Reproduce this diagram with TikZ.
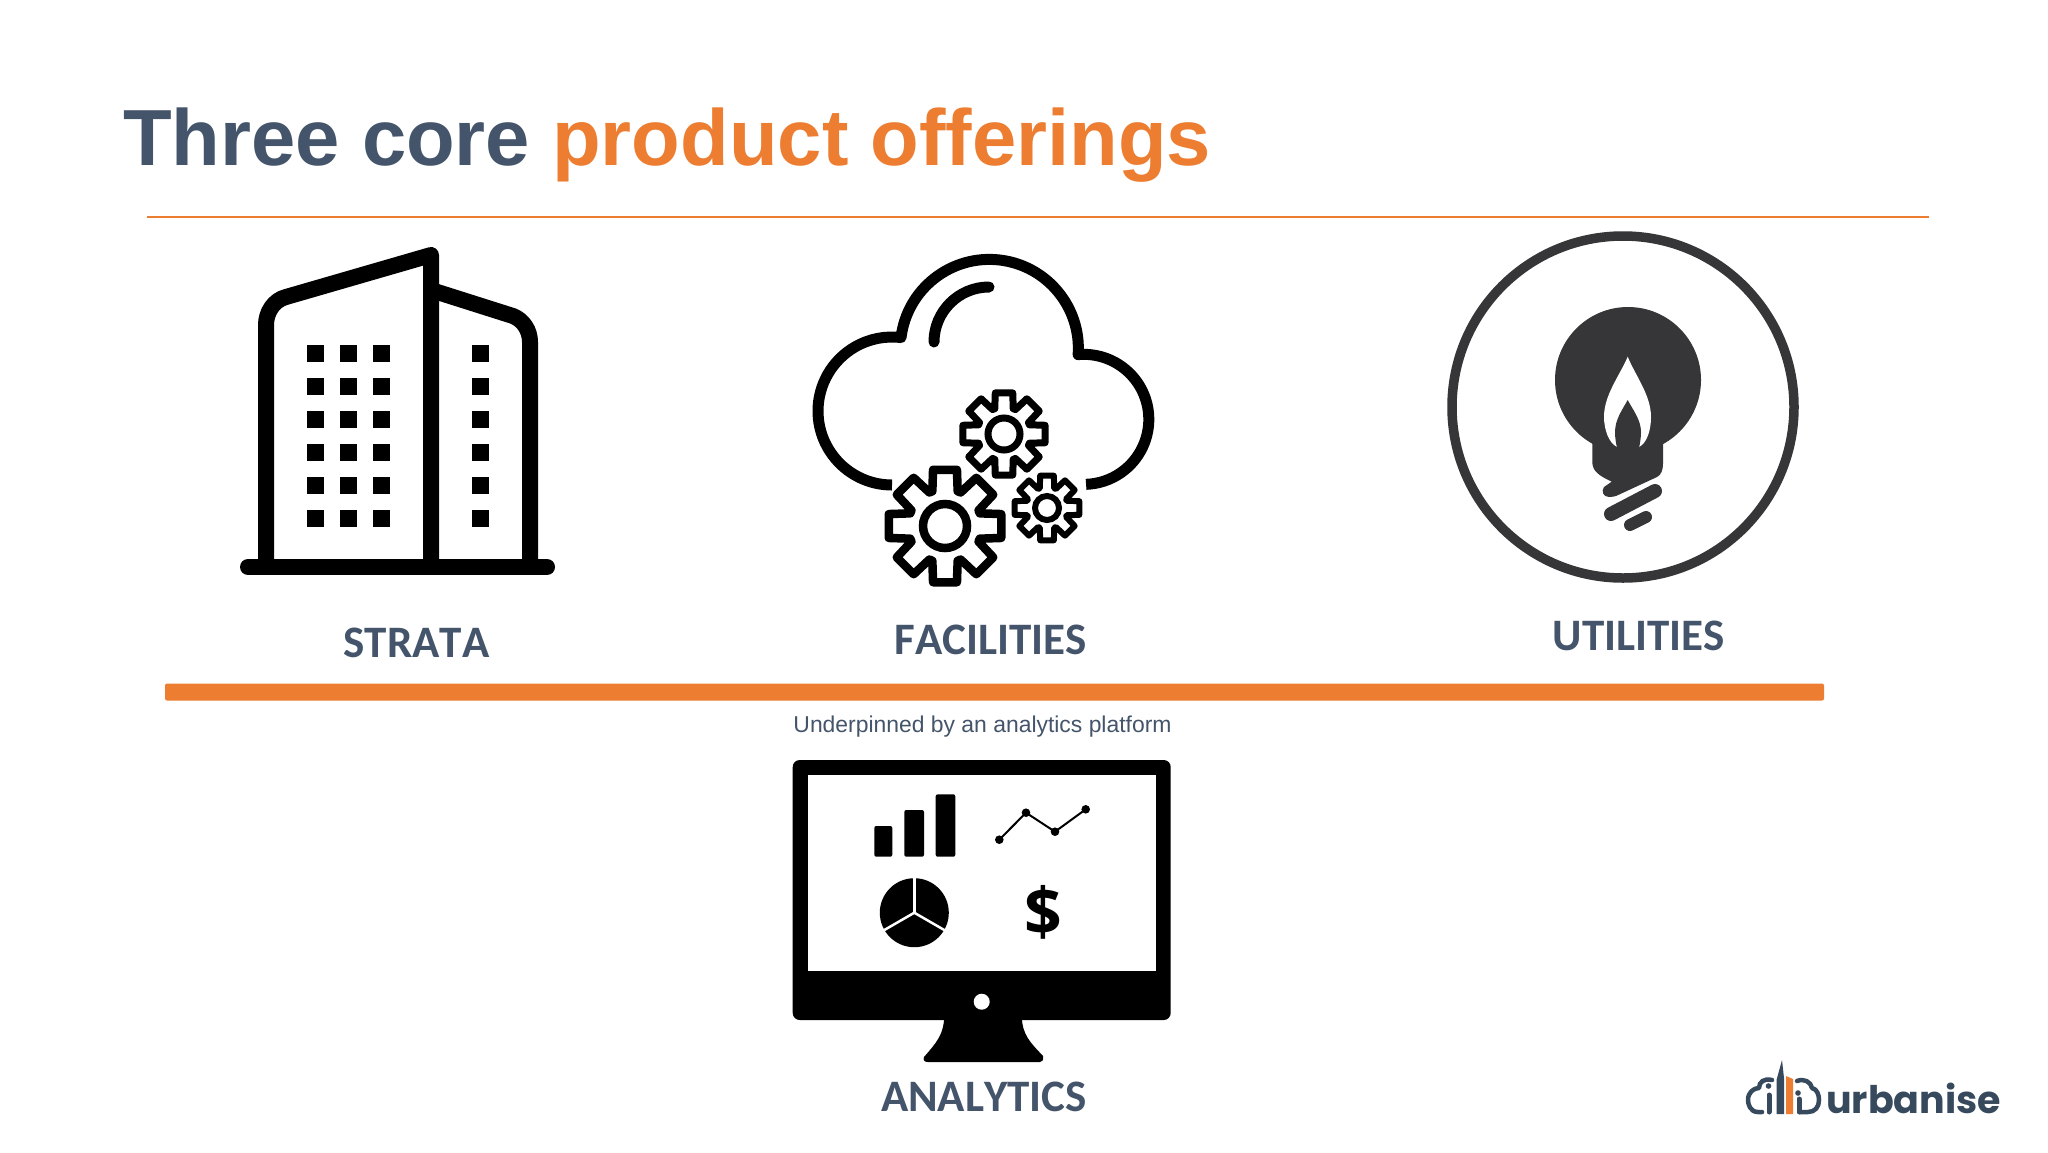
\documentclass[tikz,border=0pt]{standalone}
\usepackage{fontspec}
\setmainfont{Liberation Sans}
\newfontfamily\carl[Kerning=Off]{Carlito}
\newfontfamily\logofont{Poppins}
\newfontfamily\dollarfont{Open Sans}
\definecolor{slate}{HTML}{44546A}
\definecolor{orng}{HTML}{ED7D31}
\definecolor{bulbc}{HTML}{363638}
\definecolor{logoc}{HTML}{37495C}
\tikzset{
  label/.style={text=slate,font=\carl\bfseries\fontsize{#1}{#1}\selectfont,anchor=base,inner sep=0pt},
  ico/.style={draw=black,line cap=round,line join=round,line width=16},
  win/.style={fill=black,draw=none},
  gearline/.style={draw=black,fill=white,line join=round}
}
% \gearicon{cx}{cy}{tip}{root}{hub}{lw}
\newcommand{\gearicon}[6]{%
  \begin{scope}[shift={(#1,#2)}]
    \draw[gearline,line width=#6] (-20:#4)
      \foreach \a in {0,45,...,315} {
        -- ({\a-20}:#4) -- ({\a-12}:#3) -- ({\a+12}:#3) -- ({\a+20}:#4)
        arc[start angle={\a+20},end angle={\a+25},radius=#4]
      } -- cycle;
    \draw[draw=black,line width=#6] (0,0) circle[radius=#5];
  \end{scope}}
\begin{document}
\begin{tikzpicture}[x=1pt,y=1pt,yscale=-1]
\useasboundingbox (0,0) rectangle (2048,1152);
\fill[white] (0,0) rectangle (2048,1152);
% title
\node[anchor=base west,inner sep=0pt,font=\bfseries\fontsize{79.6}{79.6}\selectfont] (title) at (123,165)
  {\textcolor{slate}{Three core} \textcolor{orng}{product offerings}};
\coordinate (ruleL) at (147,217);
\coordinate (ruleR) at (1929,217);
\draw[orng,line width=2] (ruleL) -- (ruleR);
% building
\draw[ico,line width=16] (248,567) -- (547,567);
\draw[ico,line width=16,line cap=butt] (266,567) -- (266,325) .. controls (266,312) and (274,300) .. (286,297) -- (431,255) -- (431,567);
\draw[ico,line width=16,line cap=butt] (431,290) -- (513,316) .. controls (523,320) and (530,330) .. (530,342) -- (530,567);
\foreach \cx in {307,340,373,472}
  \foreach \cy in {345,378,411,444,477,510}
    \fill[win] (\cx,\cy) rectangle ++(16.5,16.5);
\node[label=45] (strata) at (416.5,657) {STRATA};
% cloud
\draw[line width=11,line join=round,line cap=butt,draw=black]
  (892,485) arc[start angle=90,end angle=277,radius=74]
  arc[start angle=187,end angle=364,radius=89]
  arc[start angle=-95,end angle=88,radius=65];
\draw[line width=11,line cap=round,draw=black] (934,342) arc[start angle=180,end angle=270,radius=55];
\gearicon{1004}{434}{42}{27}{16}{7}
\gearicon{1047}{508}{33}{21}{12}{6}
\gearicon{945}{526}{57.5}{37}{22}{8.5}
\node[label=45] (facilities) at (991,654) {FACILITIES};
% bulb
\draw[bulbc,line width=9.5] (1623,407) circle[radius=171];
\fill[bulbc] (1628,380) circle[radius=73];
\fill[bulbc,line join=round] (1592.3,435) -- (1592.3,463) .. controls (1593,472) and (1600,476) .. (1611.7,481.7)
  -- (1604,487) .. controls (1601,491) and (1603,497) .. (1609,497) .. controls (1612,497) and (1614,496.5) .. (1616,496)
  -- (1657,477) .. controls (1661,475) and (1663,470) .. (1663,464) -- (1663,435) -- cycle;
\draw[bulbc,line width=14,line cap=round] (1611,514) -- (1655,491);
\draw[bulbc,line width=12,line cap=round] (1630,525) -- (1646,517);
\fill[white] (1627.7,356.7) .. controls (1620,375) and (1604,395) .. (1604,416.7)
  .. controls (1604,430) and (1609,443) .. (1617,447) -- (1639,447)
  .. controls (1647,443) and (1651,430) .. (1651,417)
  .. controls (1651,395) and (1635,375) .. cycle;
\fill[bulbc] (1627.7,400) .. controls (1622,410) and (1615,420) .. (1615,432)
  .. controls (1615,438) and (1616,443) .. (1617,448) -- (1639,448)
  .. controls (1640,443) and (1641,438) .. (1641,432)
  .. controls (1641,420) and (1633,410) .. cycle;
\node[label=45] (utilities) at (1639,650) {UTILITIES};
% bar
\fill[orng,rounded corners=2] (165,683.5) rectangle (1824,700.5);
\node[anchor=base,inner sep=0pt,text=slate,font=\fontsize{22.9}{22.9}\selectfont] (under) at (982.5,732) {Underpinned by an analytics platform};
% monitor
\fill[black,rounded corners=7] (792.7,760) rectangle (1170.7,1020);
\fill[black] (944.3,1015) -- (1021.7,1015) .. controls (1022,1035) and (1030,1042) .. (1043,1056)
  .. controls (1044,1060) and (1042,1062) .. (1040,1062) -- (928,1062) .. controls (924,1062) and (923,1060) .. (924,1057)
  .. controls (936,1043) and (944,1035) .. cycle;
\fill[white] (808.3,775) rectangle (1155.7,970.7);
\fill[white] (981.7,1001.7) circle[radius=8];
\fill[black,rounded corners=2] (874.3,826) rectangle (892.3,856.7);
\fill[black,rounded corners=2] (904.3,810) rectangle (924,856.7);
\fill[black,rounded corners=2] (935.7,794.3) rectangle (955.3,856.7);
\coordinate (p1) at (999.3,839.7);
\coordinate (p2) at (1026,812.7);
\coordinate (p3) at (1055,831.7);
\coordinate (p4) at (1085.7,809.3);
\draw[black,line width=2] (p1) -- (p2) -- (p3) -- (p4);
\foreach \p in {p1,p2,p3,p4} \fill[black] (\p) circle[radius=4.3];
\fill[black] (914.3,912.7) circle[radius=34.5];
\draw[white,line width=2.5] (914.3,912.7) -- ++(-90:35);
\draw[white,line width=2.5] (914.3,912.7) -- ++(30:35);
\draw[white,line width=2.5] (914.3,912.7) -- ++(150:35);
\node[inner sep=0pt,font=\dollarfont\bfseries\fontsize{66}{66}\selectfont,text=black] (dollar) at (1043,912) {\$};
\node[label=45] (analytics) at (984,1111) {ANALYTICS};
% logo
\node[anchor=base west,inner sep=0pt,text=logoc,font=\logofont\bfseries\fontsize{38}{38}\selectfont] (urb) at (1826,1113) {urbanise};
\draw[logoc,line width=4.5,line cap=round,line join=round]
  (1762,1112) -- (1758,1112) .. controls (1750,1112) and (1748,1104) .. (1748,1100)
  .. controls (1748,1092) and (1754,1088) .. (1759,1088) .. controls (1759,1082) and (1764,1078) .. (1772,1080);
\draw[logoc,line width=5,line cap=round] (1769,1095) -- (1769,1112);
\fill[logoc] (1768.5,1086) circle[radius=2.8];
\fill[logoc] (1782,1060) -- (1784,1078) -- (1784,1114) -- (1776.5,1114) -- (1776.5,1080) -- cycle;
\fill[orng] (1786,1076) -- (1793,1079) -- (1793,1114) -- (1786,1114) -- cycle;
\draw[logoc,line width=4.5,line cap=round,line join=round]
  (1797,1081) .. controls (1804,1078) and (1811,1082) .. (1812,1088)
  .. controls (1817,1089) and (1819,1095) .. (1819,1100)
  .. controls (1819,1107) and (1815,1112) .. (1808,1112) -- (1800,1112);
\draw[logoc,line width=5,line cap=round] (1799,1099) -- (1799,1112);
\fill[logoc] (1798,1093) circle[radius=2.8];
\end{tikzpicture}
\end{document}
